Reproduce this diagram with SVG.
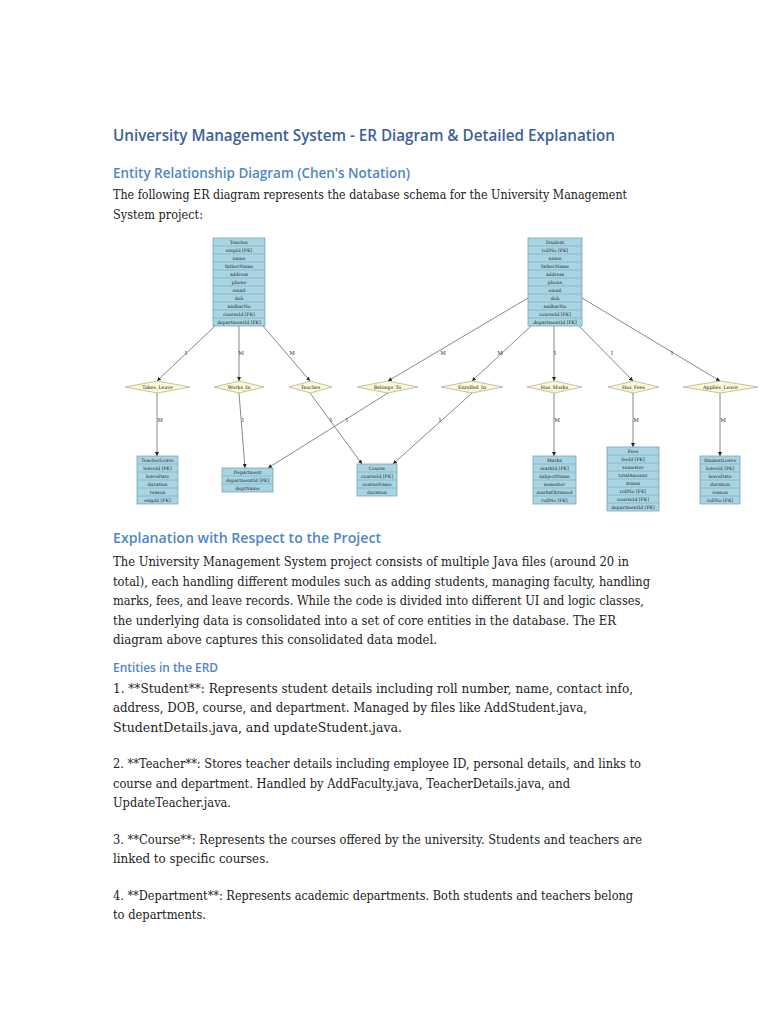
<svg xmlns="http://www.w3.org/2000/svg" width="768" height="1024" viewBox="0 0 768 1024">
<defs>
<marker id="arr" viewBox="0 0 6 6" refX="6" refY="3" markerWidth="4" markerHeight="4" orient="auto" markerUnits="userSpaceOnUse"><path d="M0,0 L6,3 L0,6 z" fill="#222"/></marker>
<style>
.h1{font-family:"Open Sans","Noto Sans",sans-serif;font-size:16.5px;font-weight:600;fill:#3a619a}
.h2{font-family:"Open Sans","Noto Sans",sans-serif;font-size:14.5px;font-weight:600;fill:#4f86c6}
.h3{font-family:"Open Sans","Noto Sans",sans-serif;font-size:12.5px;font-weight:600;fill:#4f86c6}
.b{font-family:"DejaVu Serif","Liberation Serif",serif;font-size:13px;fill:#222}
.tb{fill:#a9d5e3;stroke:#6e9aab;stroke-width:0.7}
.rl{stroke:#6e9aab;stroke-width:0.5}
.tt{font-family:"DejaVu Serif","Liberation Serif",serif;font-size:4.6px;fill:#222;text-anchor:middle}
.dm{fill:#fbf8d2;stroke:#9a9a80;stroke-width:0.6}
.dt{font-family:"DejaVu Serif","Liberation Serif",serif;font-size:4.8px;fill:#222;text-anchor:middle}
.e{stroke:#6a6a6a;stroke-width:0.8;fill:none;marker-end:url(#arr)}
.el{font-family:"DejaVu Serif","Liberation Serif",serif;font-size:5.5px;fill:#333;text-anchor:middle}
</style>
</defs>
<rect width="768" height="1024" fill="#ffffff"/>

<text class="h1" x="113" y="141" textLength="502" lengthAdjust="spacingAndGlyphs">University Management System - ER Diagram &amp; Detailed Explanation</text>
<text class="h2" x="113" y="178" textLength="297" lengthAdjust="spacingAndGlyphs">Entity Relationship Diagram (Chen's Notation)</text>
<text class="b" x="113" y="199" textLength="514" lengthAdjust="spacingAndGlyphs">The following ER diagram represents the database schema for the University Management</text>
<text class="b" x="113" y="219" textLength="90" lengthAdjust="spacingAndGlyphs">System project:</text>

<g id="connectors">
<path class="e" d="M215,326 L157,381"/>
<path class="e" d="M239,326 L239,381"/>
<path class="e" d="M263,326 L310,381"/>
<path class="e" d="M528,298 L388,381"/>
<path class="e" d="M531,326 L472,381"/>
<path class="e" d="M554,326 L554,381"/>
<path class="e" d="M579,326 L633,381"/>
<path class="e" d="M582,298 L720,381"/>
<path class="e" d="M157,393 L157,456"/>
<path class="e" d="M239,393 L245,468"/>
<path class="e" d="M310,393 L362,464"/>
<path class="e" d="M388,393 L268,468"/>
<path class="e" d="M472,393 L393,464"/>
<path class="e" d="M554,393 L554,456"/>
<path class="e" d="M633,393 L633,447"/>
<path class="e" d="M720,393 L720,456"/>
<text class="el" x="186" y="355">1</text>
<text class="el" x="241" y="355">M</text>
<text class="el" x="292" y="355">M</text>
<text class="el" x="443" y="355">M</text>
<text class="el" x="500" y="355">M</text>
<text class="el" x="555" y="355">1</text>
<text class="el" x="612" y="355">1</text>
<text class="el" x="672" y="355">1</text>
<text class="el" x="160" y="422">M</text>
<text class="el" x="243" y="422">1</text>
<text class="el" x="331" y="422">1</text>
<text class="el" x="347" y="422">1</text>
<text class="el" x="440" y="422">1</text>
<text class="el" x="557" y="422">M</text>
<text class="el" x="636" y="422">M</text>
<text class="el" x="723" y="422">M</text>
</g>

<g id="Teacher">
<rect class="tb" x="213" y="238" width="52" height="88"/>
<path class="rl" d="M213,246H265M213,254H265M213,262H265M213,270H265M213,278H265M213,286H265M213,294H265M213,302H265M213,310H265M213,318H265"/>
<text class="tt" x="239" y="244">Teacher</text>
<text class="tt" x="239" y="252">empId [PK]</text>
<text class="tt" x="239" y="260">name</text>
<text class="tt" x="239" y="268">fatherName</text>
<text class="tt" x="239" y="276">address</text>
<text class="tt" x="239" y="284">phone</text>
<text class="tt" x="239" y="292">email</text>
<text class="tt" x="239" y="300">dob</text>
<text class="tt" x="239" y="308">aadharNo</text>
<text class="tt" x="239" y="316">courseId [FK]</text>
<text class="tt" x="239" y="324">departmentId [FK]</text>
</g>

<g id="Student">
<rect class="tb" x="528" y="238" width="54" height="88"/>
<path class="rl" d="M528,246H582M528,254H582M528,262H582M528,270H582M528,278H582M528,286H582M528,294H582M528,302H582M528,310H582M528,318H582"/>
<text class="tt" x="555" y="244">Student</text>
<text class="tt" x="555" y="252">rollNo [PK]</text>
<text class="tt" x="555" y="260">name</text>
<text class="tt" x="555" y="268">fatherName</text>
<text class="tt" x="555" y="276">address</text>
<text class="tt" x="555" y="284">phone</text>
<text class="tt" x="555" y="292">email</text>
<text class="tt" x="555" y="300">dob</text>
<text class="tt" x="555" y="308">aadharNo</text>
<text class="tt" x="555" y="316">courseId [FK]</text>
<text class="tt" x="555" y="324">departmentId [FK]</text>
</g>

<g id="Takes_Leave"><polygon class="dm" points="125,387 157.5,381 190,387 157.5,393"/><text class="dt" x="157.5" y="388.7">Takes_Leave</text></g>
<g id="Works_In"><polygon class="dm" points="214,387 239,381 264,387 239,393"/><text class="dt" x="239" y="388.7">Works_In</text></g>
<g id="Teaches"><polygon class="dm" points="289,387 310.5,381 332,387 310.5,393"/><text class="dt" x="310.5" y="388.7">Teaches</text></g>
<g id="Belongs_To"><polygon class="dm" points="357,387 387.5,381 418,387 387.5,393"/><text class="dt" x="387.5" y="388.7">Belongs_To</text></g>
<g id="Enrolled_In"><polygon class="dm" points="441,387 472,381 503,387 472,393"/><text class="dt" x="472" y="388.7">Enrolled_In</text></g>
<g id="Has_Marks"><polygon class="dm" points="527,387 554.5,381 582,387 554.5,393"/><text class="dt" x="554.5" y="388.7">Has_Marks</text></g>
<g id="Has_Fees"><polygon class="dm" points="608,387 633.5,381 659,387 633.5,393"/><text class="dt" x="633.5" y="388.7">Has_Fees</text></g>
<g id="Applies_Leave"><polygon class="dm" points="683,387 720.5,381 758,387 720.5,393"/><text class="dt" x="720.5" y="388.7">Applies_Leave</text></g>

<g id="TeacherLeave">
<rect class="tb" x="137" y="456" width="41" height="48"/>
<path class="rl" d="M137,464H178M137,472H178M137,480H178M137,488H178M137,496H178"/>
<text class="tt" x="157.5" y="462">TeacherLeave</text>
<text class="tt" x="157.5" y="470">leaveId [PK]</text>
<text class="tt" x="157.5" y="478">leaveDate</text>
<text class="tt" x="157.5" y="486">duration</text>
<text class="tt" x="157.5" y="494">reason</text>
<text class="tt" x="157.5" y="502">empId [FK]</text>
</g>

<g id="Department">
<rect class="tb" x="222" y="468" width="51" height="24"/>
<path class="rl" d="M222,476H273M222,484H273"/>
<text class="tt" x="247.5" y="474">Department</text>
<text class="tt" x="247.5" y="482">departmentId [PK]</text>
<text class="tt" x="247.5" y="490">deptName</text>
</g>

<g id="Course">
<rect class="tb" x="357" y="464" width="40" height="32"/>
<path class="rl" d="M357,472H397M357,480H397M357,488H397"/>
<text class="tt" x="377" y="470">Course</text>
<text class="tt" x="377" y="478">courseId [PK]</text>
<text class="tt" x="377" y="486">courseName</text>
<text class="tt" x="377" y="494">duration</text>
</g>

<g id="Marks">
<rect class="tb" x="533" y="456" width="43" height="48"/>
<path class="rl" d="M533,464H576M533,472H576M533,480H576M533,488H576M533,496H576"/>
<text class="tt" x="554.5" y="462">Marks</text>
<text class="tt" x="554.5" y="470">markId [PK]</text>
<text class="tt" x="554.5" y="478">subjectName</text>
<text class="tt" x="554.5" y="486">semester</text>
<text class="tt" x="554.5" y="494">marksObtained</text>
<text class="tt" x="554.5" y="502">rollNo [FK]</text>
</g>

<g id="Fees">
<rect class="tb" x="607" y="447" width="52" height="64"/>
<path class="rl" d="M607,455H659M607,463H659M607,471H659M607,479H659M607,487H659M607,495H659M607,503H659"/>
<text class="tt" x="633" y="453">Fees</text>
<text class="tt" x="633" y="461">feeId [PK]</text>
<text class="tt" x="633" y="469">semester</text>
<text class="tt" x="633" y="477">totalAmount</text>
<text class="tt" x="633" y="485">status</text>
<text class="tt" x="633" y="493">rollNo [FK]</text>
<text class="tt" x="633" y="501">courseId [FK]</text>
<text class="tt" x="633" y="509">departmentId [FK]</text>
</g>

<g id="StudentLeave">
<rect class="tb" x="700" y="456" width="40" height="48"/>
<path class="rl" d="M700,464H740M700,472H740M700,480H740M700,488H740M700,496H740"/>
<text class="tt" x="720" y="462">StudentLeave</text>
<text class="tt" x="720" y="470">leaveId [PK]</text>
<text class="tt" x="720" y="478">leaveDate</text>
<text class="tt" x="720" y="486">duration</text>
<text class="tt" x="720" y="494">reason</text>
<text class="tt" x="720" y="502">rollNo [FK]</text>
</g>

<text class="h2" x="113" y="543" textLength="268" lengthAdjust="spacingAndGlyphs">Explanation with Respect to the Project</text>
<text class="b" x="113" y="566" textLength="516" lengthAdjust="spacingAndGlyphs">The University Management System project consists of multiple Java files (around 20 in</text>
<text class="b" x="113" y="586" textLength="537" lengthAdjust="spacingAndGlyphs">total), each handling different modules such as adding students, managing faculty, handling</text>
<text class="b" x="113" y="605" textLength="531" lengthAdjust="spacingAndGlyphs">marks, fees, and leave records. While the code is divided into different UI and logic classes,</text>
<text class="b" x="113" y="625" textLength="503" lengthAdjust="spacingAndGlyphs">the underlying data is consolidated into a set of core entities in the database. The ER</text>
<text class="b" x="113" y="644" textLength="324" lengthAdjust="spacingAndGlyphs">diagram above captures this consolidated data model.</text>

<text class="h3" x="113" y="672" textLength="105" lengthAdjust="spacingAndGlyphs">Entities in the ERD</text>
<text class="b" x="113" y="693" textLength="520" lengthAdjust="spacingAndGlyphs">1. **Student**: Represents student details including roll number, name, contact info,</text>
<text class="b" x="113" y="712" textLength="474" lengthAdjust="spacingAndGlyphs">address, DOB, course, and department. Managed by files like AddStudent.java,</text>
<text class="b" x="113" y="732" textLength="289" lengthAdjust="spacingAndGlyphs">StudentDetails.java, and updateStudent.java.</text>

<text class="b" x="113" y="768" textLength="528" lengthAdjust="spacingAndGlyphs">2. **Teacher**: Stores teacher details including employee ID, personal details, and links to</text>
<text class="b" x="113" y="788" textLength="457" lengthAdjust="spacingAndGlyphs">course and department. Handled by AddFaculty.java, TeacherDetails.java, and</text>
<text class="b" x="113" y="807" textLength="118" lengthAdjust="spacingAndGlyphs">UpdateTeacher.java.</text>

<text class="b" x="113" y="844" textLength="529" lengthAdjust="spacingAndGlyphs">3. **Course**: Represents the courses offered by the university. Students and teachers are</text>
<text class="b" x="113" y="863" textLength="156" lengthAdjust="spacingAndGlyphs">linked to specific courses.</text>

<text class="b" x="113" y="900" textLength="520" lengthAdjust="spacingAndGlyphs">4. **Department**: Represents academic departments. Both students and teachers belong</text>
<text class="b" x="113" y="919" textLength="93" lengthAdjust="spacingAndGlyphs">to departments.</text>
</svg>
